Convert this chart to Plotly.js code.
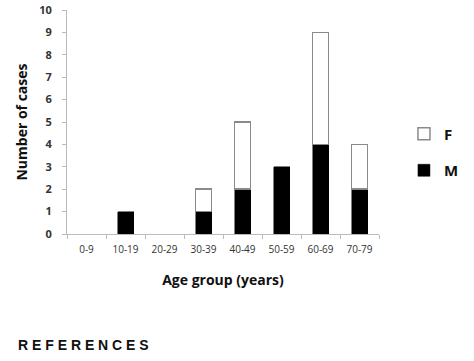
<!DOCTYPE html>
<html>
<head>
<meta charset="utf-8">
<script src="https://cdn.plot.ly/plotly-3.0.1.min.js"></script>
<style>
html,body{margin:0;padding:0;background:#fff;}
#chart{width:474px;height:361px;}
</style>
</head>
<body>
<div id="chart"></div>
<script>
var ageGroups = ["0-9","10-19","20-29","30-39","40-49","50-59","60-69","70-79"];
var maleCases = [0,1,0,1,2,3,4,2];
var femaleCases = [0,0,0,1,3,0,5,2];
var yTicks = [0,1,2,3,4,5,6,7,8,9,10];

function hideZero(arr){ return arr.map(function(v){ return v === 0 ? null : v; }); }

var traces = [
  {type:"bar", name:"M", x:ageGroups, y:hideZero(maleCases), legendgroup:"m", legendrank:2,
   marker:{color:"#000000", line:{color:"#000000", width:0.5}}},
  {type:"bar", name:"F", x:ageGroups, y:hideZero(femaleCases), legendgroup:"f", legendrank:1,
   marker:{color:"#ffffff", line:{color:"#8a8a8a", width:1.5}}}
];

var layout = {
  width:474, height:361,
  margin:{l:67, r:76, t:10, b:127},
  paper_bgcolor:"#fff", plot_bgcolor:"#fff",
  barmode:"stack", bargap:0.59,
  font:{family:"Open Sans, sans-serif", color:"#222"},
  xaxis:{
    type:"category", tickson:"boundaries", ticks:"outside", ticklen:4, tickcolor:"#bbb",
    showline:true, linecolor:"#bbb", linewidth:1, showgrid:false, zeroline:false,
    ticklabelstandoff:6,
    tickfont:{size:10, color:"#333", family:"Open Sans, sans-serif"},
    title:{text:"<b>Age group (years)</b>", font:{size:14, color:"#111", family:"Open Sans, sans-serif"}, standoff:20}
  },
  yaxis:{
    range:[0,10], tickvals:yTicks, ticks:"outside", ticklen:4, tickcolor:"#bbb",
    showline:true, linecolor:"#bbb", linewidth:1, showgrid:false, zeroline:false,
    ticklabelstandoff:8,
    tickfont:{size:11, color:"#333", family:"Open Sans, sans-serif", weight:"bold"},
    title:{text:"<b>Number of cases</b>", font:{size:14, color:"#111", family:"Open Sans, sans-serif"}, standoff:8}
  },
  showlegend:true,
  legend:{x:1.08, y:0.52, xanchor:"left", yanchor:"top", traceorder:"grouped",
    tracegroupgap:14, font:{size:15, color:"#111", family:"Open Sans, sans-serif", weight:"bold"},
    itemwidth:30, bgcolor:"rgba(0,0,0,0)"},
  annotations:[
    {xref:"paper", yref:"paper", x:-0.163, y:-0.45, xanchor:"left", yanchor:"top", showarrow:false,
     text:"<b>R E F E R E N C E S</b>", font:{size:14, color:"#111", family:"Liberation Sans, Arial, sans-serif"}}
  ]
};

Plotly.newPlot("chart", traces, layout, {displayModeBar:false, staticPlot:true});
</script>
</body>
</html>
